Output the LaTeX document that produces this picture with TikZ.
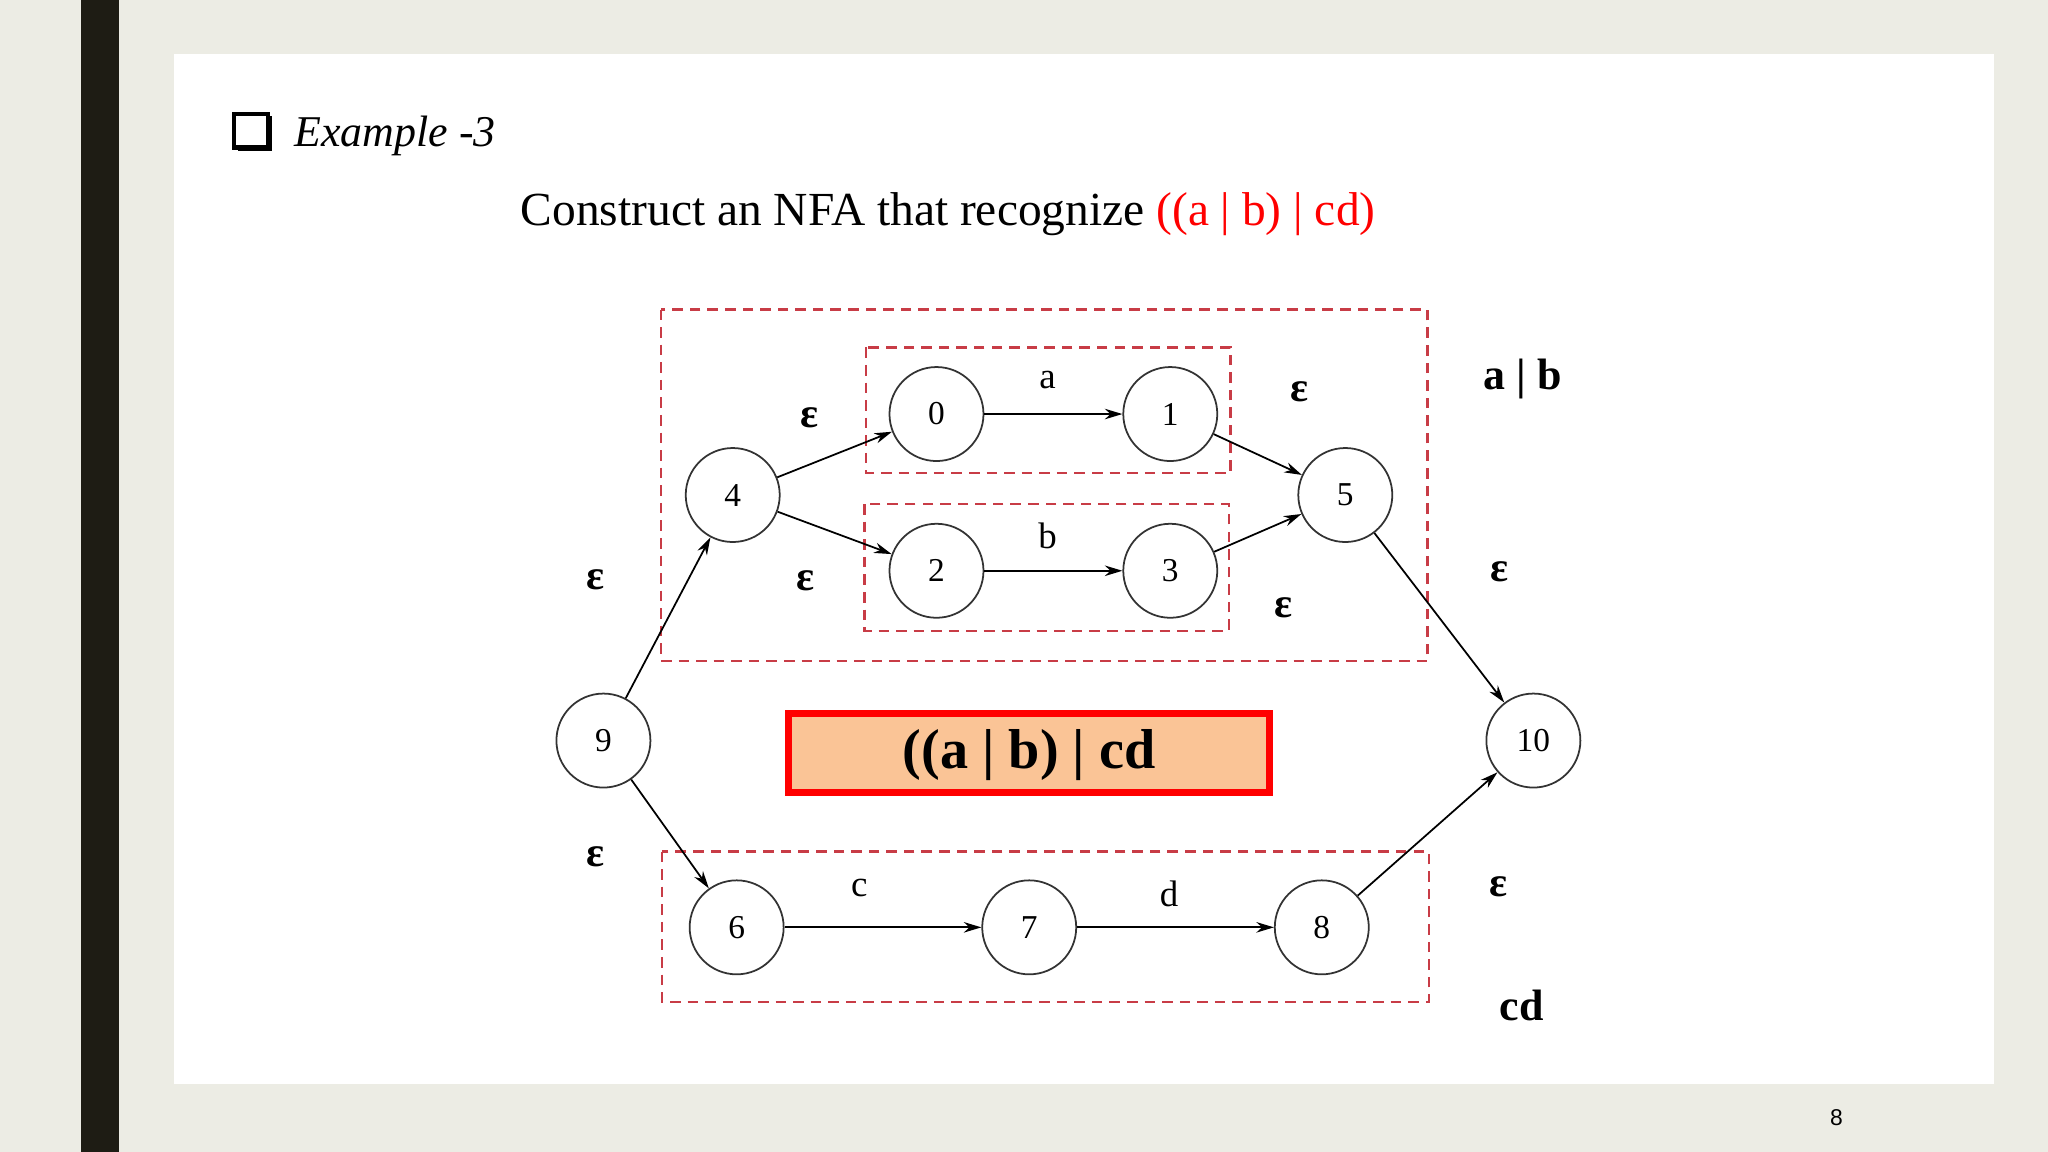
\documentclass[tikz,border=0pt]{standalone}
\usepackage{fontspec}
\setmainfont{Liberation Serif}
\newfontfamily\sansf{Liberation Sans}
\usetikzlibrary{arrows.meta}
\definecolor{bgc}{RGB}{236,236,228}
\definecolor{barc}{RGB}{30,28,20}
\definecolor{dred}{RGB}{200,60,70}
\definecolor{orf}{RGB}{250,196,150}
\begin{document}
\begin{tikzpicture}[x=0.013061cm,y=-0.013061cm,
  st/.style={circle,draw=black!80,line width=0.5pt,minimum size=0.94cm,inner sep=0pt,font=\fontsize{9.5}{11}\selectfont},
  ed/.style={-{Stealth[length=5pt,width=3pt]},line width=0.5pt},
  dbox/.style={draw=dred,dashed,line width=0.7pt,dash pattern=on 3pt off 2pt},
  eps/.style={font=\fontsize{12}{14}\selectfont\bfseries},
  lab/.style={font=\fontsize{10.5}{12}\selectfont}]
\fill[bgc] (0,0) rectangle (1568,882);
\useasboundingbox (0,0) rectangle (1568,882);
\fill[barc] (62,0) rectangle (91,882);
\fill[white] (133,41) rectangle (1527,830);
\draw[line width=1.2pt] (179,87) rectangle (205,113);
\draw[line width=1.2pt] (182,114) -- (207,114) -- (207,89);
\node[anchor=west,font=\fontsize{12.5}{14}\selectfont\itshape] (ex) at (216,104) {Example -3};
\node[font=\fontsize{13.5}{16}\selectfont] (title) at (726,164) {Construct an NFA that recognize \textcolor{red}{((a | b) | cd)}};
\draw[dbox] (506,237) rectangle (1093,506);
\draw[dbox] (663,266) rectangle (942,362);
\draw[dbox] (662,386) rectangle (941,483);
\draw[dbox] (507,652) rectangle (1094,767);
\node[st] (n0) at (717,317) {0};
\node[st] (n1) at (896,317) {1};
\node[st] (n4) at (561,379) {4};
\node[st] (n5) at (1030,379) {5};
\node[st] (n2) at (717,437) {2};
\node[st] (n3) at (896,437) {3};
\node[st] (n9) at (462,567) {9};
\node[st] (n10) at (1174,567) {10};
\node[st] (n6) at (564,710) {6};
\node[st] (n7) at (788,710) {7};
\node[st] (n8) at (1012,710) {8};
\draw[ed] (n0) -- (n1);
\draw[ed] (n2) -- (n3);
\draw[ed] (n4) -- (n0);
\draw[ed] (n4) -- (n2);
\draw[ed] (n1) -- (n5);
\draw[ed] (n3) -- (n5);
\draw[ed] (n9) -- (n4);
\draw[ed] (n9) -- (n6);
\draw[ed] (n5) -- (n10);
\draw[ed] (n8) -- (n10);
\draw[ed] (n6) -- (n7);
\draw[ed] (n7) -- (n8);
\node[lab] (la) at (802,291) {a};
\node[lab] (lb) at (802,410) {b};
\node[lab] (lc) at (658,680) {c};
\node[lab] (ld) at (895,684) {d};
\node[eps] (e1) at (620,320) {ε};
\node[eps] (e2) at (995,300) {ε};
\node[eps] (e3) at (617,445) {ε};
\node[eps] (e4) at (983,465) {ε};
\node[eps] (e5) at (456,444) {ε};
\node[eps] (e6) at (1148,438) {ε};
\node[eps] (e7) at (456,656) {ε};
\node[eps] (e8) at (1147,679) {ε};
\node[font=\fontsize{12.5}{14}\selectfont\bfseries] (ab) at (1166,290) {a | b};
\node[font=\fontsize{12.5}{14}\selectfont\bfseries] (cd) at (1165,770) {cd};
\draw[draw=red,fill=orf,line width=2pt] (604,546) rectangle (972,607);
\node[font=\fontsize{16}{18}\selectfont\bfseries] (big) at (788,578) {((a | b) | cd};
\node[font=\sansf\fontsize{6.5}{8}\selectfont] (pg) at (1406,856) {8};
\end{tikzpicture}
\end{document}
